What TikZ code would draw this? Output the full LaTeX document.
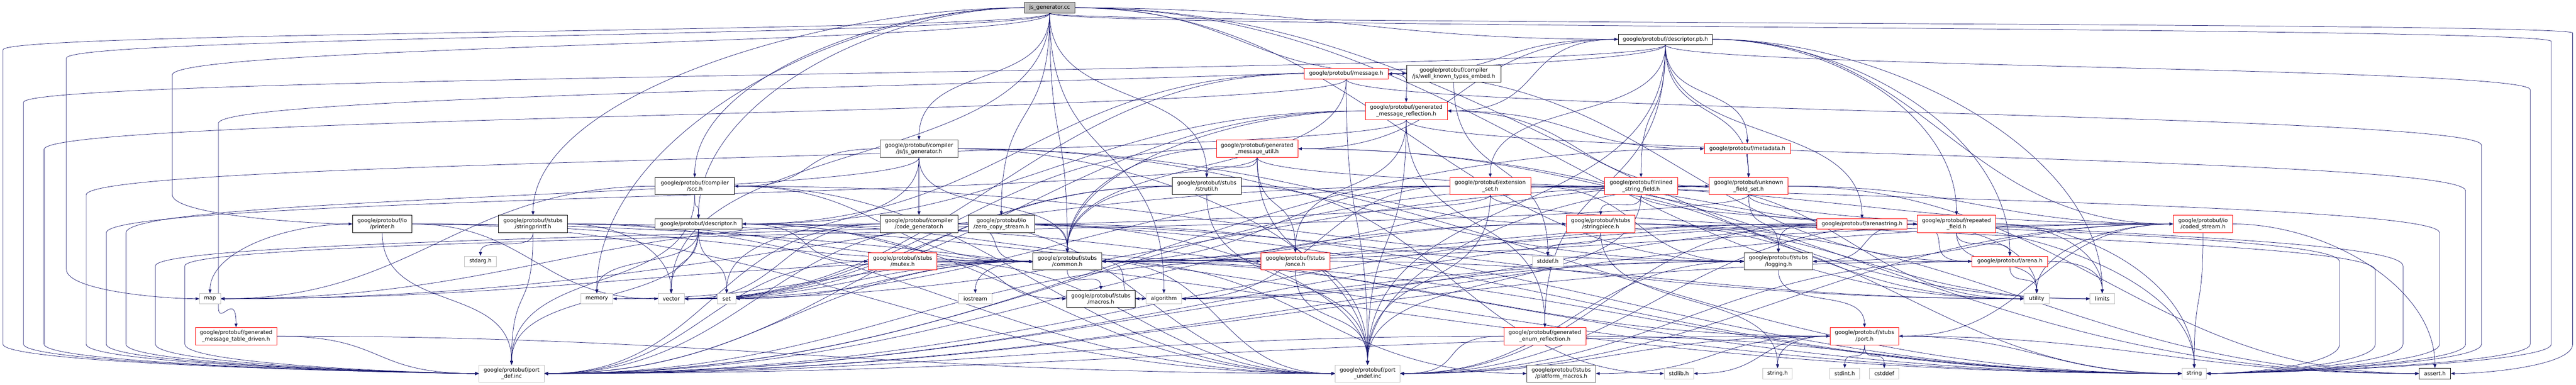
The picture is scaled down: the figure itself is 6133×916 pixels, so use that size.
\documentclass[tikz,border=0pt]{standalone}
\usepackage{fontspec}
\setmainfont{DejaVu Sans}
\usetikzlibrary{arrows.meta,backgrounds}
\definecolor{midblue}{HTML}{191970}
\definecolor{lgray}{HTML}{BFBFBF}
\definecolor{dgray}{HTML}{404040}
\newcommand\nodefont{\fontsize{12.8}{15}\selectfont}
\newcommand\gnode[6]{\node[#1,minimum width=#5pt] (#2) at (#3,-#4) {#6};}
% direct include edge
\newcommand\incl[2]{%
  \pgfpointanchor{#1}{center}\pgfgetlastxy\eAx\eAy
  \pgfpointanchor{#2}{center}\pgfgetlastxy\eBx\eBy
  \pgfmathsetmacro\eDx{\eBx-\eAx}%
  \pgfmathsetmacro\eDy{\eAy-\eBy}%
  \pgfmathsetmacro\eAdx{abs(\eDx)}%
  \pgfmathtruncatemacro\eOut{\eAdx>1.5*\eDy ? (\eDx>0 ? 0 : 180) : 270}%
  \pgfmathtruncatemacro\eIn{\eAdx>2.5*\eDy ? (\eDx>0 ? 180 : 0) : 90}%
  \pgfmathsetmacro\eCa{\eOut==270 ? 0.55*\eDy : 0.4*\eAdx}%
  \pgfmathsetmacro\eCb{\eIn==90 ? 0.55*\eDy : 0.4*\eAdx}%
  \draw[dep] (#1.\eOut) .. controls +(\eOut:\eCa pt) and +(\eIn:\eCb pt) .. (#2.\eIn);%
}
% include edge routed along a vertical channel at x = #3, entering target at angle #4,
% leaving the source from below and dropping #5 before the channel
\newcommand\via[5]{%
  \pgfpointanchor{#1}{center}\pgfgetlastxy\eAx\eAy
  \pgfpointanchor{#2}{center}\pgfgetlastxy\eBx\eBy
  \pgfmathsetmacro\eYa{\eAy-#5}%
  \pgfmathsetmacro\eYb{\eBy+70}%
  \pgfmathsetmacro\eK{0.45*#5}%
  \draw[dep] (#1.270) .. controls +(0,-\eK) and +(0,\eK) .. (#3,\eYa) -- (#3,\eYb) .. controls +(0,-50) and +(#4:90) .. (#2.#4);%
}
\tikzset{
  nbase/.style={draw, fill=white, line width=1pt, inner sep=0pt, align=center, font=\nodefont, minimum height=25pt},
  two/.style={minimum height=41pt},
  nblk/.style={nbase, draw=black},
  ndark/.style={nbase, draw=dgray},
  nred/.style={nbase, draw=red},
  ngray/.style={nbase, draw=lgray},
  nroot/.style={nbase, draw=dgray, fill=lgray},
  dep/.style={draw=midblue, line width=0.9pt, -{Triangle[length=9pt,width=7pt]}},
}
\begin{document}
\begin{tikzpicture}[x=1pt,y=1pt]
\useasboundingbox (0,0) rectangle (6133,-916);
% rank 0-4
\gnode{nroot}{cc}{2499}{18.5}{120}{js\_generator.cc}
\gnode{nblk}{pbh}{3965}{93.5}{224}{google/protobuf/descriptor.pb.h}
\gnode{nred}{msg}{3205}{175.5}{199}{google/protobuf/message.h}
\gnode{nblk,two}{wkt}{3461}{175}{225}{google/protobuf/compiler\\/js/well\_known\_types\_embed.h}
\gnode{nred,two}{refl}{3348}{264}{195}{google/protobuf/generated\\\_message\_reflection.h}
\gnode{ndark,two}{jsh}{2188}{354}{186}{google/protobuf/compiler\\/js/js\_generator.h}
\gnode{nred,two}{util}{2993}{354}{194}{google/protobuf/generated\\\_message\_util.h}
\gnode{nred}{meta}{4160}{354}{205}{google/protobuf/metadata.h}
\gnode{nblk,two}{scc}{1654}{443}{188}{google/protobuf/compiler\\/scc.h}
\gnode{nblk,two}{strutil}{2873}{443}{164}{google/protobuf/stubs\\/strutil.h}
\gnode{nred,two}{ext}{3548}{443}{193}{google/protobuf/extension\\\_set.h}
\gnode{nred,two}{inl}{3907}{443}{174}{google/protobuf/inlined\\\_string\_field.h}
\gnode{nred,two}{ufs}{4163}{443}{187}{google/protobuf/unknown\\\_field\_set.h}
% rank 533
\gnode{nblk,two}{printer}{910}{533}{141}{google/protobuf/io\\/printer.h}
\gnode{nblk,two}{sprintf}{1269}{533}{164}{google/protobuf/stubs\\/stringprintf.h}
\gnode{ndark}{desc}{1663}{533}{207}{google/protobuf/descriptor.h}
\gnode{nblk,two}{codegen}{2188}{533}{186}{google/protobuf/compiler\\/code\_generator.h}
\gnode{nblk,two}{zcs}{2384}{533}{158}{google/protobuf/io\\/zero\_copy\_stream.h}
\gnode{nred,two}{spiece}{3811}{533}{164}{google/protobuf/stubs\\/stringpiece.h}
\gnode{nred}{astr}{4433}{533}{214}{google/protobuf/arenastring.h}
\gnode{nred,two}{rep}{4658}{533}{187}{google/protobuf/repeated\\\_field.h}
\gnode{nred,two}{coded}{5245}{533}{141}{google/protobuf/io\\/coded\_stream.h}
% rank 622
\gnode{ngray}{stdarg}{1144}{622}{76}{stdarg.h}
\gnode{nred,two}{mutex}{2149}{622}{164}{google/protobuf/stubs\\/mutex.h}
\gnode{ndark,two}{common}{2541}{622}{164}{google/protobuf/stubs\\/common.h}
\gnode{nred,two}{once}{3084}{622}{165}{google/protobuf/stubs\\/once.h}
\gnode{ngray}{stddef}{3685}{622}{74}{stddef.h}
\gnode{ndark,two}{logging}{4234}{622}{163}{google/protobuf/stubs\\/logging.h}
\gnode{nred}{arena}{4785}{622}{180}{google/protobuf/arena.h}
% rank 711
\gnode{ngray}{map}{500}{711}{50}{map}
\gnode{ngray}{memory}{1421}{711}{76}{memory}
\gnode{ngray}{vector}{1598}{711}{62}{vector}
\gnode{ngray}{set}{1730}{711}{44}{set}
\gnode{ngray}{iostream}{2322}{711}{80}{iostream}
\gnode{nblk,two}{macros}{2621}{711}{164}{google/protobuf/stubs\\/macros.h}
\gnode{ngray}{algorithm}{2771}{711}{85}{algorithm}
\gnode{ngray}{utility}{4849}{711}{60}{utility}
\gnode{ngray}{limits}{5005}{711}{58}{limits}
% rank 800
\gnode{nred,two}{tdriven}{562}{800}{194}{google/protobuf/generated\\\_message\_table\_driven.h}
\gnode{nred,two}{genum}{3678}{800}{195}{google/protobuf/generated\\\_enum\_reflection.h}
\gnode{nred,two}{port}{4439}{800}{163}{google/protobuf/stubs\\/port.h}
% rank 889
\gnode{ngray,two}{portdef}{1218}{889}{155}{google/protobuf/port\\\_def.inc}
\gnode{ngray,two}{portundef}{3256}{889}{154}{google/protobuf/port\\\_undef.inc}
\gnode{ndark,two}{platform}{3717}{889}{164}{google/protobuf/stubs\\/platform\_macros.h}
\gnode{ngray}{stdlib}{3997}{889}{70}{stdlib.h}
\gnode{ngray}{stringh}{4232}{889}{70}{string.h}
\gnode{ngray}{stdint}{4392}{889}{71}{stdint.h}
\gnode{ngray}{cstddef}{4486}{889}{70}{cstddef}
\gnode{ngray}{string}{5224}{889}{58}{string}
\gnode{nblk}{assert}{5797}{889}{75}{assert.h}
\begin{pgfonlayer}{background}
\fill[white] (0,0) rectangle (6133,-916);
% edges routed around the left and right margins
\via{cc}{map}{158}{180}{120}
\via{cc}{printer}{410}{180}{160}
\via{cc}{portdef}{7}{180}{100}
\via{pbh}{portdef}{56}{180}{150}
\via{msg}{portdef}{105}{180}{180}
\via{refl}{portdef}{205}{180}{200}
\via{util}{portdef}{253}{180}{200}
\via{jsh}{portdef}{300}{180}{200}
\via{ext}{portdef}{370}{180}{190}
\via{ufs}{portdef}{440}{180}{190}
\via{pbh}{tdriven}{520}{90}{200}
\via{cc}{assert}{6125}{0}{60}
\via{cc}{string}{6074}{0}{80}
\via{pbh}{string}{6024}{0}{120}
\via{msg}{string}{5908}{0}{170}
\via{refl}{string}{5870}{0}{190}
\via{util}{string}{5808}{0}{200}
\via{ufs}{string}{5721}{0}{190}
\via{ext}{string}{5655}{0}{200}
\via{inl}{string}{5570}{0}{180}
\foreach \s/\t in {
 cc/jsh, cc/algorithm, cc/limits, cc/memory, cc/utility, cc/vector,
 cc/logging, cc/common, cc/sprintf, cc/strutil, cc/scc, cc/wkt, cc/zcs, cc/pbh, cc/desc,
 pbh/limits, pbh/portundef, pbh/coded, pbh/arena, pbh/astr,
 pbh/util, pbh/inl, pbh/meta, pbh/refl, pbh/msg, pbh/rep, pbh/ext, pbh/genum, pbh/ufs,
 msg/vector, msg/common, msg/arena, msg/desc, msg/refl, msg/portundef,
 wkt/stddef,
 refl/vector, refl/common, refl/desc, refl/genum, refl/once, refl/ufs, refl/meta, refl/portundef,
 jsh/set, jsh/string, jsh/logging, jsh/common, jsh/scc, jsh/codegen, jsh/portundef,
 util/assert, util/vector, util/common, util/once, util/rep, util/strutil, util/portundef,
 meta/ufs, meta/portdef,
 scc/map, scc/logging, scc/common, scc/desc, scc/portdef, scc/portundef,
 strutil/stdlib, strutil/vector, strutil/common, strutil/spiece, strutil/portdef, strutil/portundef,
 ext/algorithm, ext/map, ext/utility, ext/vector, ext/common, ext/logging, ext/coded, ext/rep, ext/portundef,
 inl/utility, inl/spiece, inl/portdef, inl/portundef,
 ufs/assert, ufs/vector, ufs/common, ufs/logging, ufs/coded, ufs/portundef,
 printer/map, printer/string, printer/vector, printer/common, printer/portdef, printer/portundef,
 sprintf/stdarg, sprintf/string, sprintf/vector, sprintf/common, sprintf/portdef, sprintf/portundef,
 desc/memory, desc/set, desc/string, desc/vector, desc/common, desc/mutex, desc/once, desc/portdef, desc/portundef,
 codegen/common, codegen/map, codegen/string, codegen/utility, codegen/vector, codegen/portdef, codegen/portundef,
 zcs/string, zcs/common, zcs/portdef, zcs/portundef,
 spiece/assert, spiece/stddef, spiece/stringh, spiece/limits, spiece/string, spiece/common, spiece/portdef,
 astr/string, astr/utility, astr/logging, astr/common, astr/arena, astr/portdef, astr/portundef,
 rep/utility, rep/algorithm, rep/limits, rep/string, rep/logging, rep/common, rep/arena, rep/portdef, rep/portundef,
 coded/assert, coded/string, coded/utility, coded/common, coded/logging, coded/port, coded/portdef, coded/portundef,
 common/algorithm, common/iostream, common/map, common/memory, common/set, common/string, common/vector,
 common/macros, common/platform, common/port, common/portdef, common/portundef,
 mutex/macros, mutex/portdef, mutex/portundef,
 once/utility, once/portdef, once/portundef,
 logging/macros, logging/port, logging/portdef, logging/portundef,
 arena/limits, arena/utility, arena/portdef, arena/portundef,
 genum/string, genum/portdef, genum/portundef,
 port/assert, port/string, port/stringh, port/stdint, port/cstddef, port/stdlib, port/platform, port/portdef, port/portundef,
 tdriven/portdef, tdriven/portundef}
 {\incl{\s}{\t}}
\end{pgfonlayer}
\end{tikzpicture}
\end{document}
